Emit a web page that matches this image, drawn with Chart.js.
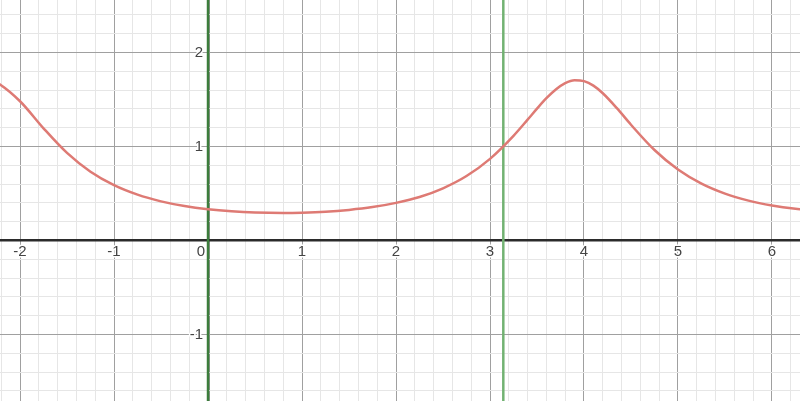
<!DOCTYPE html>
<html>
<head>
<meta charset="utf-8">
<script src="https://cdn.jsdelivr.net/npm/chart.js@4"></script>
<style>
  html, body { margin: 0; padding: 0; background: #fff; }
  #wrap { width: 800px; height: 401px; position: relative; }
</style>
</head>
<body>
<div id="wrap"><canvas id="graph"></canvas></div>
<script>
// values
const curveX = [-2.5, -2.25, -2, -1.75, -1.5, -1.25, -1, -0.75, -0.5, -0.25, 0, 0.25, 0.5, 0.8, 1, 1.25, 1.5, 1.75, 2, 2.25, 2.5, 2.75, 3, 3.25, 3.4, 3.5, 3.6, 3.7, 3.8, 3.9, 4, 4.1, 4.2, 4.35, 4.5, 4.75, 5, 5.25, 5.5, 5.75, 6, 6.25, 6.5];
const curveY = [1.79, 1.684, 1.482, 1.194, 0.932, 0.732, 0.589, 0.488, 0.417, 0.367, 0.333, 0.311, 0.298, 0.293, 0.296, 0.306, 0.326, 0.356, 0.401, 0.463, 0.556, 0.686, 0.869, 1.114, 1.286, 1.403, 1.514, 1.607, 1.675, 1.706, 1.696, 1.648, 1.567, 1.408, 1.232, 0.963, 0.755, 0.605, 0.499, 0.425, 0.373, 0.337, 0.313];
const verticalLines = [0, 3.1416];
const xTickLabels = [-2, -1, 0, 1, 2, 3, 4, 5, 6];
const yTickLabels = [-1, 1, 2];

const xMin = -2.213, xMax = 6.298;
const yMin = -1.707, yMax = 2.559;

function gridColor(c) {
  const v = c.tick.value;
  if (Math.abs(v) < 1e-6) return '#2b2b2b';
  if (Math.abs(v - Math.round(v)) < 1e-6) return '#a0a0a0';
  return '#e6e6e6';
}
function gridWidth(c) {
  return Math.abs(c.tick.value) < 1e-6 ? 2.5 : 1;
}

// Desmos style labels sitting on the axes
const tickLabels = {
  id: 'tickLabels',
  afterDatasetsDraw(chart) {
    const { ctx, scales: { x, y } } = chart;
    ctx.save();
    ctx.font = '15px Arial, "Liberation Sans", sans-serif';
    ctx.lineJoin = 'round';
    ctx.lineWidth = 3;
    ctx.strokeStyle = '#fff';
    ctx.fillStyle = '#444';
    ctx.textBaseline = 'middle';
    const y0 = y.getPixelForValue(0);
    const x0 = x.getPixelForValue(0);
    xTickLabels.forEach(v => {
      let px = x.getPixelForValue(v);
      ctx.textAlign = 'center';
      if (v === 0) { ctx.textAlign = 'right'; px -= 3; }
      ctx.strokeText(String(v), px, y0 + 11);
      ctx.fillText(String(v), px, y0 + 11);
    });
    yTickLabels.forEach(v => {
      const py = y.getPixelForValue(v);
      ctx.textAlign = 'right';
      ctx.strokeText(String(v), x0 - 5, py);
      ctx.fillText(String(v), x0 - 5, py);
    });
    ctx.restore();
  }
};

new Chart(document.getElementById('graph'), {
  type: 'scatter',
  data: {
    datasets: [
      {
        data: curveX.map((x, i) => ({ x, y: curveY[i] })),
        showLine: true,
        borderColor: '#de7a74',
        borderWidth: 2.5,
        pointRadius: 0,
        cubicInterpolationMode: 'monotone',
        order: 0
      },
      {
        data: [{ x: verticalLines[0], y: yMin - 1 }, { x: verticalLines[0], y: yMax + 1 }],
        showLine: true,
        borderColor: '#3c7d3c',
        borderWidth: 2.5,
        pointRadius: 0,
        order: 2
      },
      {
        data: [{ x: verticalLines[1], y: yMin - 1 }, { x: verticalLines[1], y: yMax + 1 }],
        showLine: true,
        borderColor: '#72b272',
        borderWidth: 2.5,
        pointRadius: 0,
        order: 1
      }
    ]
  },
  options: {
    responsive: true,
    maintainAspectRatio: false,
    animation: false,
    layout: { padding: 0 },
    plugins: { legend: { display: false }, tooltip: { enabled: false } },
    scales: {
      x: {
        type: 'linear', min: xMin, max: xMax,
        border: { display: false },
        grid: { color: gridColor, lineWidth: gridWidth, drawTicks: false },
        ticks: { display: false, stepSize: 0.2, autoSkip: false, includeBounds: false }
      },
      y: {
        type: 'linear', min: yMin, max: yMax,
        border: { display: false },
        grid: { color: gridColor, lineWidth: gridWidth, drawTicks: false },
        ticks: { display: false, stepSize: 0.2, autoSkip: false, includeBounds: false }
      }
    }
  },
  plugins: [tickLabels]
});
</script>
</body>
</html>
